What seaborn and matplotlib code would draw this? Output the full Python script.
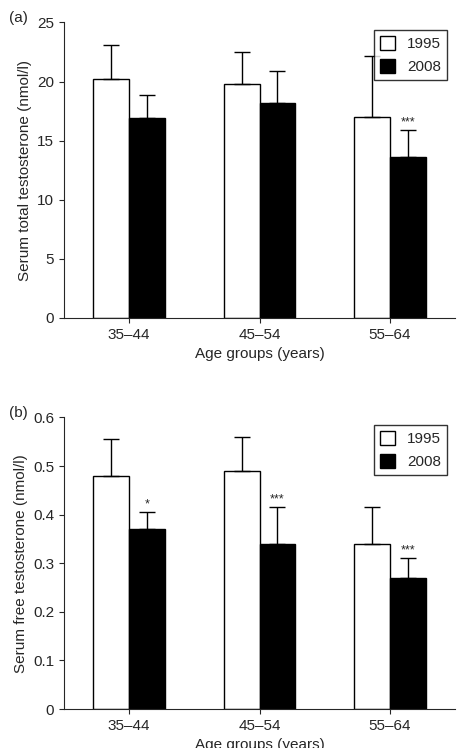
import matplotlib
matplotlib.use("Agg")
import matplotlib.pyplot as plt
import seaborn as sns
import pandas as pd
import numpy as np

groups = ["35–44", "45–54", "55–64"]
years = ["1995", "2008"]
total_1995 = [20.2, 19.8, 17.0]
total_2008 = [16.9, 18.2, 13.6]
total_err_1995 = [2.9, 2.7, 5.2]
total_err_2008 = [2.0, 2.7, 2.3]
total_sig = ["", "", "***"]
free_1995 = [0.48, 0.49, 0.34]
free_2008 = [0.37, 0.34, 0.27]
free_err_1995 = [0.075, 0.07, 0.075]
free_err_2008 = [0.035, 0.075, 0.04]
free_sig = ["*", "***", "***"]

sns.set_style("ticks")
plt.rcParams['font.family'] = ['Liberation Sans', 'DejaVu Sans']

fig = plt.figure(figsize=(4.74, 7.48), dpi=100)
ax1 = fig.add_axes([0.135, 0.575, 0.825, 0.395])
ax2 = fig.add_axes([0.135, 0.052, 0.825, 0.39])

def panel(ax, v95, v08, e95, e08, sig, ylim, yticks, ylabel, letter, fmt):
    df = pd.DataFrame({"group": groups * 2, "year": ["1995"] * 3 + ["2008"] * 3,
                       "value": v95 + v08})
    sns.barplot(data=df, x="group", y="value", hue="year", palette=["white", "black"],
                edgecolor="black", linewidth=1.0, width=0.55, ax=ax, errorbar=None)
    errs = e95 + e08
    for bar, e in zip(ax.patches[:6], errs):
        x = bar.get_x() + bar.get_width() / 2
        h = bar.get_height()
        ax.errorbar(x, h, yerr=[[0], [e]], color="black", capsize=6, lw=1, capthick=1)
    for bar, s, e in zip(ax.patches[3:6], sig, e08):
        x = bar.get_x() + bar.get_width() / 2
        ax.text(x, bar.get_height() + e + ylim[1] * 0.005, s, ha="center", va="bottom", fontsize=9)
    ax.set_ylim(*ylim)
    ax.set_yticks(yticks)
    ax.set_yticklabels([fmt(t) for t in yticks])
    ax.set_xlim(-0.5, 2.5)
    ax.set_ylabel(ylabel, fontsize=11)
    ax.set_xlabel("Age groups (years)", fontsize=11)
    ax.tick_params(labelsize=11)
    sns.despine(ax=ax)
    ax.legend(loc="upper right", frameon=True, fancybox=False, edgecolor="black",
              fontsize=11, handlelength=1.0, handleheight=1.0)
    ax.text(-0.14, 1.04, letter, transform=ax.transAxes, fontsize=11, va="top")

panel(ax1, total_1995, total_2008, total_err_1995, total_err_2008, total_sig,
      (0, 25), [0, 5, 10, 15, 20, 25], "Serum total testosterone (nmol/l)", "(a)",
      lambda t: f"{t:g}")
panel(ax2, free_1995, free_2008, free_err_1995, free_err_2008, free_sig,
      (0, 0.6), [0, 0.1, 0.2, 0.3, 0.4, 0.5, 0.6], "Serum free testosterone (nmol/l)", "(b)",
      lambda t: "0" if t == 0 else f"{t:.1f}")

fig.savefig("out.png", dpi=100)
